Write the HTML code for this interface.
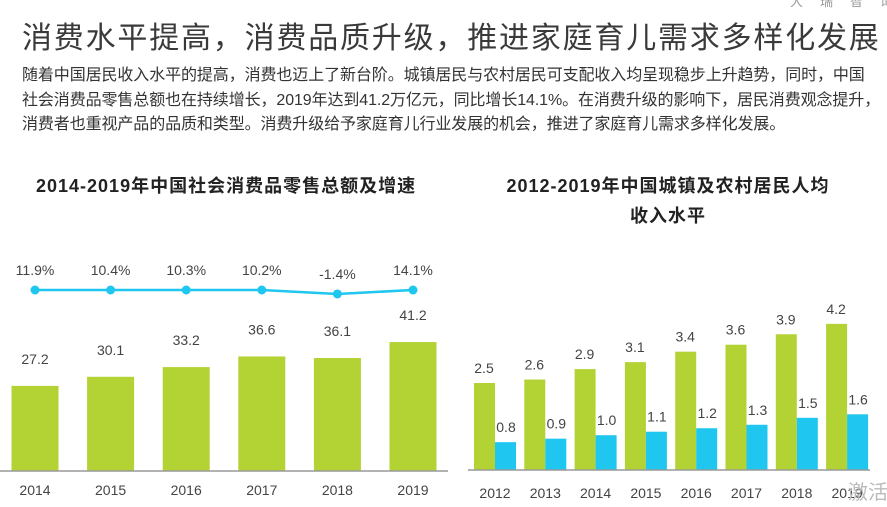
<!DOCTYPE html>
<html><head><meta charset="utf-8"><style>
body{margin:0;width:887px;height:507px;overflow:hidden;background:#fff;font-family:"Liberation Sans","Noto Sans CJK SC",sans-serif;position:relative}
.t{position:absolute;white-space:nowrap}
</style></head><body>
<div class="t" style="left:790px;top:-9px;font-size:13px;color:#999;letter-spacing:17px">大瑞智询</div>
<div class="t" style="left:22px;top:13px;font-size:30px;color:#3a3a3a;letter-spacing:1.8px">消费水平提高，消费品质升级，推进家庭育儿需求多样化发展</div>
<div class="t" style="left:22px;top:64px;font-size:16px;line-height:24.5px;color:#333;letter-spacing:-0.1px">随着中国居民收入水平的提高，消费也迈上了新台阶。城镇居民与农村居民可支配收入均呈现稳步上升趋势，同时，中国<br>社会消费品零售总额也在持续增长，2019年达到41.2万亿元，同比增长14.1%。在消费升级的影响下，居民消费观念提升，<br>消费者也重视产品的品质和类型。消费升级给予家庭育儿行业发展的机会，推进了家庭育儿需求多样化发展。</div>
<div class="t" style="left:36px;top:172px;font-size:18px;font-weight:bold;color:#222;letter-spacing:1px">2014-2019年中国社会消费品零售总额及增速</div>
<div class="t" style="left:488px;top:171px;width:360px;text-align:center;font-size:18px;font-weight:bold;color:#222;line-height:30px;letter-spacing:1px">2012-2019年中国城镇及农村居民人均<br>收入水平</div>
<svg id="c" width="887" height="507" style="position:absolute;left:0;top:0"></svg>
<div class="t" style="left:848px;top:476px;font-size:20px;color:#bbb">激活</div>
<script>
const years1=["2014","2015","2016","2017","2018","2019"];
const retail=[27.2,30.1,33.2,36.6,36.1,41.2];
const growth=[11.9,10.4,10.3,10.2,-1.4,14.1];
const years2=["2012","2013","2014","2015","2016","2017","2018","2019"];
const urban=[2.5,2.6,2.9,3.1,3.4,3.6,3.9,4.2];
const rural=[0.8,0.9,1.0,1.1,1.2,1.3,1.5,1.6];
const NS="http://www.w3.org/2000/svg",svg=document.getElementById('c');
function mk(t,a,txt){const e=document.createElementNS(NS,t);for(const k in a)e.setAttribute(k,a[k]);if(txt!==undefined)e.textContent=txt;svg.appendChild(e);return e;}
const G="#b3d234",B="#1fc6ef";
const base1=471,x1=i=>35+i*75.6,h1=v=>v*3.13,y2=g=>290+Math.max(0,(10-g))*0.35;
let pts=[];
years1.forEach((yr,i)=>{
 let r=mk('rect',{x:x1(i)-23.5,y:base1-h1(retail[i]),width:47,height:h1(retail[i]),fill:G});
 
 let lt=mk('text',{x:x1(i),y:base1-h1(retail[i])-22,'text-anchor':'middle','font-size':14,fill:'#444'},retail[i].toFixed(1));
 
 let yt=mk('text',{x:x1(i),y:495,'text-anchor':'middle','font-size':14,fill:'#444'},yr);
 
 pts.push([x1(i),y2(growth[i])]);
});
let pl=mk('polyline',{points:pts.map(p=>p.join(',')).join(' '),fill:'none',stroke:B,'stroke-width':2.5});

pts.forEach((p,i)=>{
 let c=mk('circle',{cx:p[0],cy:p[1],r:4.5,fill:B});
 
 let t=mk('text',{x:p[0],y:p[1]-15,'text-anchor':'middle','font-size':14,fill:'#444'},growth[i].toFixed(1)+'%');
 
});
let ax1=mk('line',{x1:0,y1:base1,x2:448,y2:base1,stroke:'#999','stroke-width':1.5});

const base2=470,x2=i=>495+i*50.3,h2=v=>v*34.8;
years2.forEach((yr,i)=>{
 let g=mk('rect',{x:x2(i)-21,y:base2-h2(urban[i]),width:21,height:h2(urban[i]),fill:G});
 
 let b=mk('rect',{x:x2(i),y:base2-h2(rural[i]),width:21,height:h2(rural[i]),fill:B});
 
 let gt=mk('text',{x:x2(i)-11,y:base2-h2(urban[i])-10,'text-anchor':'middle','font-size':14,fill:'#444'},urban[i].toFixed(1));
 
 let bt=mk('text',{x:x2(i)+11,y:base2-h2(rural[i])-10,'text-anchor':'middle','font-size':14,fill:'#444'},rural[i].toFixed(1));
 
 let yt=mk('text',{x:x2(i),y:498,'text-anchor':'middle','font-size':14,fill:'#444'},yr);
 
});
let ax2=mk('line',{x1:468,y1:base2,x2:870,y2:base2,stroke:'#999','stroke-width':1.5});

</script>
</body></html>
